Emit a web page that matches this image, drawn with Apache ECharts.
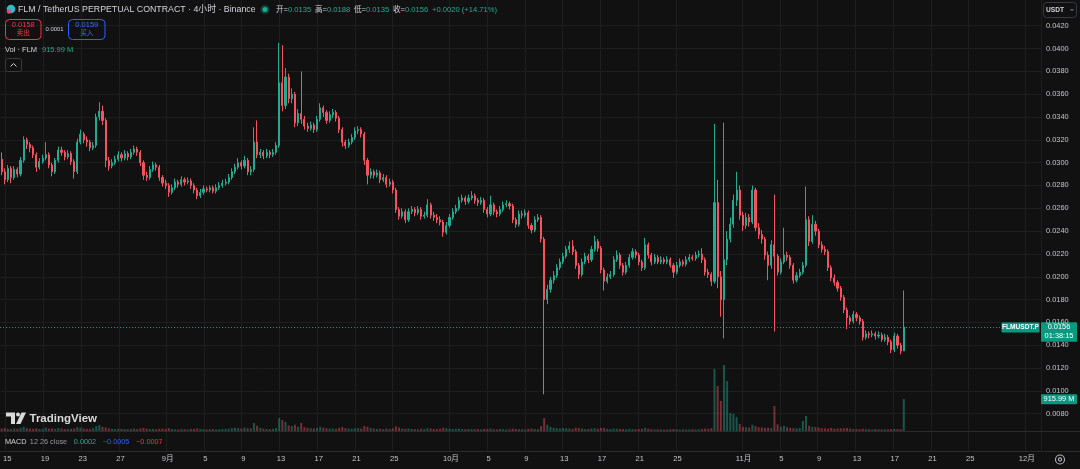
<!DOCTYPE html>
<html><head><meta charset="utf-8">
<script src="https://cdn.jsdelivr.net/npm/echarts@6/dist/echarts.min.js"></script>
<style>html,body{margin:0;padding:0;background:#111111;}#c{width:1080px;height:469px;}</style>
</head><body><div id="c"></div>
<script>
// ---- data (8h candles, FLM/USDT perpetual) ----
const firstOpen = 0.0303;
const closes = [
.0292,.0285,.0295,.0287,.0294,.0290,.0302,.0320,.0316,.0313,
.0307,.0296,.0301,.0304,.0307,.0298,.0292,.0302,.0311,.0309,
.0305,.0308,.0301,.0292,.0318,.0325,.0320,.0318,.0313,.0315,
.0340,.0345,.0337,.0302,.0297,.0300,.0303,.0307,.0304,.0308,
.0305,.0309,.0312,.0309,.0300,.0289,.0287,.0294,.0298,.0296,
.0287,.0282,.0280,.0274,.0278,.0283,.0281,.0285,.0283,.0284,
.0280,.0276,.0271,.0274,.0277,.0276,.0278,.0275,.0278,.0280,
.0282,.0283,.0287,.0292,.0296,.0300,.0297,.0302,.0292,.0294,
.0318,.0307,.0309,.0306,.0309,.0307,.0309,.0315,.0370,.0350,
.0375,.0356,.0360,.0335,.0343,.0338,.0332,.0330,.0333,.0329,
.0338,.0348,.0344,.0337,.0342,.0344,.0339,.0329,.0318,.0315,
.0318,.0322,.0328,.0329,.0325,.0302,.0289,.0292,.0289,.0291,
.0285,.0287,.0281,.0283,.0276,.0259,.0253,.0257,.0250,.0257,
.0259,.0256,.0259,.0253,.0254,.0263,.0254,.0252,.0250,.0248,
.0239,.0245,.0252,.0257,.0260,.0267,.0269,.0266,.0269,.0271,
.0267,.0265,.0267,.0259,.0255,.0263,.0257,.0255,.0259,.0263,
.0264,.0262,.0250,.0246,.0255,.0254,.0256,.0245,.0241,.0250,
.0252,.0233,.0180,.0189,.0197,.0201,.0208,.0213,.0218,.0224,
.0227,.0222,.0210,.0202,.0213,.0218,.0215,.0224,.0231,.0225,
.0206,.0196,.0200,.0202,.0215,.0219,.0210,.0204,.0210,.0217,
.0222,.0219,.0213,.0208,.0228,.0219,.0213,.0217,.0213,.0215,
.0213,.0215,.0210,.0204,.0210,.0213,.0211,.0215,.0217,.0216,
.0219,.0220,.0215,.0204,.0202,.0196,.0265,.0200,.0180,.0215,
.0233,.0246,.0267,.0276,.0254,.0245,.0252,.0248,.0276,.0243,
.0237,.0233,.0219,.0210,.0228,.0218,.0204,.0213,.0219,.0217,
.0210,.0197,.0201,.0204,.0210,.0250,.0231,.0246,.0240,.0228,
.0224,.0222,.0208,.0199,.0195,.0190,.0182,.0171,.0164,.0161,
.0167,.0164,.0161,.0147,.0150,.0149,.0150,.0148,.0149,.0145,
.0147,.0143,.0136,.0148,.0140,.0135,.0156];
const highs = [
.0309,.0295,.0298,.0297,.0297,.0296,.0305,.0323,.0322,.0318,
.0315,.0309,.0304,.0307,.0318,.0309,.0300,.0304,.0314,.0314,
.0311,.0311,.0310,.0303,.0321,.0329,.0327,.0323,.0320,.0318,
.0343,.0353,.0350,.0339,.0305,.0303,.0306,.0310,.0309,.0311,
.0310,.0312,.0315,.0314,.0311,.0302,.0292,.0297,.0301,.0300,
.0298,.0289,.0285,.0282,.0281,.0286,.0285,.0288,.0287,.0287,
.0286,.0282,.0278,.0277,.0280,.0279,.0280,.0280,.0281,.0283,
.0285,.0286,.0290,.0295,.0299,.0304,.0302,.0306,.0304,.0297,
.0331,.0337,.0312,.0311,.0312,.0311,.0312,.0318,.0405,.0403,
.0383,.0378,.0365,.0362,.0347,.0380,.0341,.0335,.0336,.0335,
.0341,.0352,.0350,.0346,.0345,.0347,.0346,.0341,.0331,.0320,
.0321,.0325,.0331,.0332,.0331,.0327,.0304,.0295,.0294,.0294,
.0293,.0290,.0289,.0286,.0285,.0278,.0261,.0260,.0259,.0260,
.0262,.0261,.0262,.0261,.0257,.0268,.0265,.0257,.0255,.0253,
.0250,.0248,.0255,.0260,.0263,.0270,.0272,.0271,.0272,.0275,
.0273,.0269,.0270,.0269,.0261,.0271,.0265,.0259,.0262,.0266,
.0267,.0266,.0264,.0252,.0258,.0258,.0259,.0258,.0247,.0253,
.0255,.0254,.0235,.0193,.0200,.0205,.0211,.0216,.0221,.0227,
.0231,.0232,.0224,.0212,.0216,.0221,.0220,.0227,.0236,.0233,
.0227,.0208,.0203,.0205,.0218,.0223,.0221,.0212,.0213,.0220,
.0225,.0224,.0221,.0215,.0234,.0230,.0221,.0220,.0219,.0218,
.0217,.0218,.0217,.0212,.0213,.0216,.0215,.0218,.0220,.0219,
.0222,.0223,.0225,.0217,.0207,.0204,.0334,.0285,.0205,.0335,
.0240,.0252,.0272,.0292,.0280,.0257,.0256,.0255,.0280,.0278,
.0247,.0241,.0235,.0222,.0232,.0272,.0220,.0216,.0243,.0222,
.0219,.0212,.0204,.0207,.0213,.0279,.0253,.0254,.0249,.0242,
.0231,.0227,.0224,.0210,.0202,.0197,.0192,.0184,.0173,.0166,
.0170,.0169,.0166,.0163,.0153,.0152,.0153,.0152,.0152,.0151,
.0150,.0149,.0145,.0151,.0150,.0142,.0188];
const lows = [
.0289,.0281,.0283,.0282,.0285,.0287,.0288,.0300,.0312,.0309,
.0304,.0292,.0294,.0299,.0302,.0295,.0288,.0290,.0300,.0306,
.0302,.0303,.0298,.0286,.0290,.0316,.0317,.0314,.0310,.0311,
.0313,.0337,.0333,.0296,.0293,.0295,.0298,.0301,.0301,.0302,
.0302,.0303,.0307,.0306,.0297,.0285,.0284,.0285,.0292,.0293,
.0284,.0279,.0277,.0270,.0272,.0276,.0278,.0279,.0280,.0281,
.0277,.0273,.0268,.0269,.0272,.0274,.0274,.0273,.0273,.0276,
.0278,.0280,.0281,.0285,.0290,.0294,.0294,.0295,.0289,.0289,
.0292,.0304,.0304,.0303,.0304,.0304,.0305,.0307,.0313,.0345,
.0347,.0352,.0352,.0331,.0332,.0334,.0329,.0327,.0328,.0326,
.0327,.0336,.0340,.0334,.0335,.0339,.0336,.0326,.0314,.0312,
.0313,.0316,.0320,.0325,.0322,.0298,.0281,.0286,.0286,.0287,
.0282,.0283,.0278,.0279,.0273,.0256,.0250,.0251,.0247,.0248,
.0255,.0253,.0254,.0250,.0251,.0252,.0251,.0249,.0247,.0245,
.0235,.0237,.0243,.0250,.0255,.0258,.0265,.0263,.0264,.0267,
.0264,.0262,.0263,.0256,.0252,.0253,.0254,.0252,.0253,.0257,
.0261,.0259,.0247,.0243,.0244,.0251,.0252,.0242,.0238,.0239,
.0248,.0230,.0097,.0176,.0186,.0194,.0199,.0206,.0211,.0216,
.0221,.0219,.0207,.0198,.0200,.0211,.0212,.0213,.0222,.0222,
.0203,.0188,.0194,.0198,.0200,.0213,.0207,.0201,.0202,.0208,
.0215,.0216,.0210,.0205,.0206,.0216,.0210,.0211,.0211,.0211,
.0211,.0211,.0208,.0199,.0202,.0208,.0209,.0209,.0213,.0214,
.0214,.0217,.0212,.0201,.0199,.0192,.0194,.0190,.0165,.0146,
.0210,.0230,.0243,.0262,.0250,.0240,.0242,.0244,.0246,.0240,
.0233,.0229,.0215,.0197,.0207,.0152,.0201,.0202,.0211,.0214,
.0207,.0194,.0195,.0199,.0202,.0208,.0227,.0229,.0236,.0225,
.0221,.0219,.0205,.0196,.0192,.0187,.0179,.0168,.0154,.0158,
.0159,.0161,.0158,.0144,.0145,.0146,.0147,.0145,.0146,.0143,
.0143,.0140,.0133,.0134,.0137,.0132,.0135];
const volumesM = [
70,85,60,55,75,65,90,120,80,70,
65,80,60,55,95,70,75,60,85,70,
55,65,60,75,110,95,70,60,55,80,
140,170,120,100,75,60,55,65,60,55,
50,60,70,55,75,90,70,55,60,50,
65,70,60,85,60,50,45,55,50,45,
55,60,75,55,50,45,50,55,45,50,
55,60,65,80,90,85,70,95,80,75,
230,150,90,70,60,55,65,85,370,315,
260,160,140,180,120,230,110,90,80,70,
85,120,95,80,70,75,60,90,110,85,
70,65,75,80,70,140,120,85,70,60,
65,55,70,60,75,130,100,70,65,75,
60,55,50,65,55,80,70,60,55,65,
90,75,70,60,65,70,55,50,60,55,
50,55,45,60,55,70,50,45,55,50,
45,50,70,60,55,50,45,65,75,60,
55,140,370,180,120,90,80,70,85,75,
70,60,90,85,65,55,60,75,80,65,
90,85,60,55,70,65,60,55,50,60,
55,50,55,60,90,65,50,45,50,45,
40,45,50,55,45,40,45,40,45,50,
45,50,60,70,65,80,1775,1290,860,1890,
1430,515,490,400,200,120,110,100,180,140,
110,100,90,95,85,715,190,120,150,110,
90,80,75,85,290,430,150,120,110,95,
80,75,70,90,65,70,75,80,85,70,
60,55,50,65,55,50,45,55,50,45,
50,45,55,60,55,50,915.99];
const tickDates = ['08-15','08-19','08-23','08-27','09-01','09-05','09-09','09-13','09-17','09-21','09-25','10-01','10-05','10-09','10-13','10-17','10-21','10-25','11-01','11-05','11-09','11-13','11-17','11-21','11-25','12-01'];
const tickTexts = ['15','19','23','27','9月','5','9','13','17','21','25','10月','5','9','13','17','21','25','11月','5','9','13','17','21','25','12月'];
const priceTicks = {min:0.0080, max:0.0420, step:0.0020};
const countdown = '01:38:15';
const symbolName = 'FLMUSDT.P';
const titleText = 'FLM / TetherUS PERPETUAL CONTRACT · 4小时 · Binance';
const ohlcLabels = ['开=','高=','低=','收='];
const ohlcValues = ['0.0135','0.0188','0.0135','0.0156'];
const changeText = '+0.0020 (+14.71%)';

// ---- build ----
const slotCount = 330;
const t0 = Date.UTC(2025,7,14,16);
const categories = [];
for (let i=0;i<slotCount;i++){
  const d = new Date(t0 + i*8*3600e3);
  const p = n => String(n).padStart(2,'0');
  categories.push(p(d.getUTCMonth()+1)+'-'+p(d.getUTCDate())+' '+p(d.getUTCHours())+':00');
}
const tickMap = {};
tickDates.forEach((d,i)=>{ tickMap[d+' 00:00'] = tickTexts[i]; });
const isTick = (i,v) => tickMap[v] !== undefined;

const UP='#22ab94', DN='#f7525f', TEAL='#089981';
const candleData = closes.map((c,i)=>{
  const o = i===0 ? firstOpen : closes[i-1];
  return [o, c, lows[i], highs[i]];
});
const volData = volumesM.map((v,i)=>{
  const up = candleData[i][1] >= candleData[i][0];
  return {value:v, itemStyle:{color: up ? 'rgba(34,171,148,0.45)' : 'rgba(247,82,95,0.45)'}};
});
const lastClose = closes[closes.length-1];
const lastVol = volumesM[volumesM.length-1];

const font = '"Liberation Sans","Noto Sans CJK SC",sans-serif';
const TXT = '#d1d4dc';
const AX = '#c3c6ce';
const GRID = '#1e1e1e';

const chart = echarts.init(document.getElementById('c'), null, {renderer:'canvas'});
chart.setOption({
  backgroundColor:'#111111',
  animation:false,
  grid:[
    {left:0, top:0, width:1041, height:451},
    {left:0, top:25.7, width:1041, height:388},
    {left:0, top:300, width:1041, height:131}
  ],
  xAxis:[
    {type:'category', gridIndex:0, data:categories, boundaryGap:true,
     axisLine:{show:false}, axisTick:{show:false},
     axisLabel:{interval:isTick, formatter:v=>tickMap[v]||'', color:AX, fontSize:7.6, margin:4, fontFamily:font},
     splitLine:{show:true, interval:isTick, lineStyle:{color:GRID, width:1}}},
    {type:'category', gridIndex:1, data:categories, boundaryGap:true, show:false},
    {type:'category', gridIndex:2, data:categories, boundaryGap:true, show:false}
  ],
  yAxis:[
    {type:'value', gridIndex:0, show:false},
    {type:'value', gridIndex:1, position:'right', min:priceTicks.min, max:priceTicks.max, interval:priceTicks.step,
     axisLine:{show:false}, axisTick:{show:false},
     axisLabel:{color:AX, fontSize:7.4, margin:5, fontFamily:font, formatter:v=>v.toFixed(4)},
     splitLine:{show:true, lineStyle:{color:GRID, width:1}}},
    {type:'value', gridIndex:2, show:false, min:0, max:3750}
  ],
  series:[
    {type:'bar', xAxisIndex:2, yAxisIndex:2, data:volData, barWidth:2, silent:true},
    {type:'candlestick', xAxisIndex:1, yAxisIndex:1, data:candleData, barWidth:1.6, silent:true,
     itemStyle:{color:UP, color0:DN, borderColor:UP, borderColor0:DN, borderWidth:1}}
  ]
});

// price / volume tags placed through the library's scales
const py = chart.convertToPixel({yAxisIndex:1}, lastClose);
const vy = chart.convertToPixel({yAxisIndex:2}, lastVol);

const T = (x,y,text,size,fill,extra) => Object.assign({type:'text', x:x, y:y, silent:true,
  style:Object.assign({text:text, fill:fill, fontSize:size, fontFamily:font, verticalAlign:'middle'}, extra||{})});

const ohlcX = [276, 315, 354, 393];
const graphics = [
  {type:'line', shape:{x1:0,y1:431.5,x2:1080,y2:431.5}, style:{stroke:'#2b2b2b', lineWidth:1}, silent:true},
  {type:'line', shape:{x1:0,y1:451.5,x2:1080,y2:451.5}, style:{stroke:'#2b2b2b', lineWidth:1}, silent:true},
  // current price dotted line + tags
  {type:'line', shape:{x1:0,y1:Math.round(py)+0.5,x2:1001,y2:Math.round(py)+0.5}, style:{stroke:TEAL, lineWidth:1, lineDash:[1,2]}, silent:true},
  {type:'rect', shape:{x:1001.5, y:py-4.5, width:38, height:10, r:1}, style:{fill:TEAL}, silent:true},
  T(1020.5, py+0.6, symbolName, 6.6, '#ffffff', {align:'center', fontWeight:'bold'}),
  {type:'rect', shape:{x:1041, y:py-4.8, width:36, height:19.5, r:1}, style:{fill:TEAL}, silent:true},
  T(1059, py+0.3, lastClose.toFixed(4), 7.4, '#ffffff', {align:'center'}),
  T(1059, py+9.3, countdown, 7.4, '#ffffff', {align:'center'}),
  {type:'rect', shape:{x:1041, y:vy-4.8, width:36, height:10, r:1}, style:{fill:TEAL}, silent:true},
  T(1059, vy+0.3, lastVol.toFixed(2)+' M', 7.4, '#ffffff', {align:'center'}),
  // header
  {type:'circle', shape:{cx:11, cy:9, r:4.3}, style:{fill:'#2fb9c9'}},
  {type:'circle', shape:{cx:9, cy:11.5, r:2.2}, style:{fill:'#e04a7c'}},
  T(18, 10, titleText, 8.8, TXT),
  {type:'circle', shape:{cx:265, cy:9.5, r:4.5}, style:{fill:'rgba(8,153,129,0.35)'}},
  {type:'circle', shape:{cx:265, cy:9.5, r:2.5}, style:{fill:UP}},
  // sell / buy
  {type:'rect', shape:{x:5.5, y:19.5, width:35.5, height:20, r:4}, style:{fill:'none', stroke:'#f23645', lineWidth:1}},
  T(23.3, 25.2, '0.0158', 7.5, '#f23645', {align:'center'}),
  T(23.3, 33.6, '卖出', 6.6, '#f23645', {align:'center'}),
  T(54.5, 29.6, '0.0001', 5.9, TXT, {align:'center'}),
  {type:'rect', shape:{x:68.5, y:19.5, width:36.5, height:20, r:4}, style:{fill:'none', stroke:'#2962ff', lineWidth:1}},
  T(86.8, 25.2, '0.0159', 7.5, '#3d6ef5', {align:'center'}),
  T(86.8, 33.6, '买入', 6.6, '#3d6ef5', {align:'center'}),
  // volume legend
  T(5, 49.5, 'Vol · FLM', 7.5, TXT),
  T(42, 49.5, lastVol.toFixed(2)+' M', 7.5, UP),
  {type:'rect', shape:{x:5.5, y:58.5, width:16, height:13, r:2}, style:{fill:'none', stroke:'#3a3a3a', lineWidth:1}},
  {type:'polyline', shape:{points:[[10.5,66.5],[13.5,63.5],[16.5,66.5]]}, style:{stroke:TXT, lineWidth:1, fill:'none'}},
  // TradingView watermark
  {type:'polygon', shape:{points:[[6,412.5],[15,412.5],[15,424],[11,424],[11,416.5],[6,416.5]]}, style:{fill:'#d9d9d9'}},
  {type:'circle', shape:{cx:18, cy:414.5, r:2}, style:{fill:'#d9d9d9'}},
  {type:'polygon', shape:{points:[[21.5,412.5],[26,412.5],[20.5,424],[16,424]]}, style:{fill:'#d9d9d9'}},
  T(29.5, 418.5, 'TradingView', 11.5, '#d9d9d9', {fontWeight:'bold'}),
  // MACD legend
  {type:'text', x:5, y:441.5, silent:true, style:{text:'{w|MACD} {g|12 26 close}  {t|0.0002}  {b|−0.0005}  {r|−0.0007}', verticalAlign:'middle',
    rich:{w:{fill:TXT, fontSize:7.3, fontFamily:font}, g:{fill:'#9598a1', fontSize:7.3, fontFamily:font},
          t:{fill:UP, fontSize:7.3, fontFamily:font}, b:{fill:'#2962ff', fontSize:7.3, fontFamily:font}, r:{fill:'#f23645', fontSize:7.3, fontFamily:font}}}},
  // USDT selector
  {type:'rect', shape:{x:1043.5, y:2.5, width:33, height:15, r:3}, style:{fill:'none', stroke:'#363a45', lineWidth:1}},
  T(1046, 10, 'USDT', 6.6, TXT, {fontWeight:'bold'}),
  {type:'polyline', shape:{points:[[1070.5,9],[1072,10.5],[1073.5,9]]}, style:{stroke:'#9598a1', lineWidth:1, fill:'none'}},
  // settings icon
  {type:'circle', shape:{cx:1060, cy:459.5, r:4.5}, style:{fill:'none', stroke:'#b2b5be', lineWidth:1.1}},
  {type:'circle', shape:{cx:1060, cy:459.5, r:1.6}, style:{fill:'none', stroke:'#b2b5be', lineWidth:1.1}}
];
ohlcLabels.forEach((k,i)=>{
  graphics.push({type:'text', x:ohlcX[i], y:10, silent:true, style:{text:'{k|'+k+'}{v|'+ohlcValues[i]+'}', verticalAlign:'middle',
    rich:{k:{fill:TXT, fontSize:7.6, fontFamily:font}, v:{fill:UP, fontSize:7.6, fontFamily:font}}}});
});
graphics.push(T(432, 10, changeText, 7.6, UP));
chart.setOption({graphic:graphics});
</script></body></html>
